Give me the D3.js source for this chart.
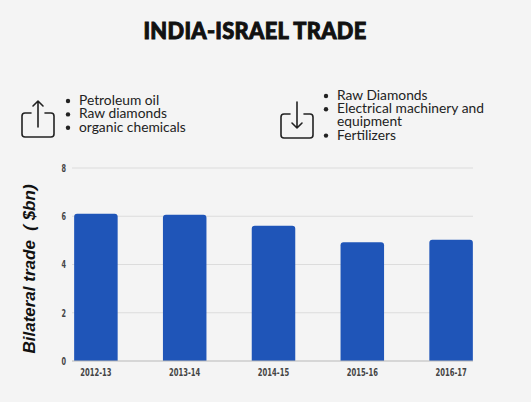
<!DOCTYPE html>
<html>
<head><meta charset="utf-8"></head>
<style>
  html, body { margin: 0; padding: 0; background: #f4f4f4; }
  svg { display: block; }
</style>
<body>
<div id="chart"></div>
<script src="https://cdnjs.cloudflare.com/ajax/libs/d3/7.8.5/d3.min.js"></script>
<script>
  // data
  const years = ['2012-13', '2013-14', '2014-15', '2015-16', '2016-17'];
  const trade = [6.1, 6.06, 5.61, 4.92, 5.03];
  const yTicks = [0, 2, 4, 6, 8];
  const exportsList = ['Petroleum oil', 'Raw diamonds', 'organic chemicals'];
  const importsList = ['Raw Diamonds', 'Electrical machinery and', 'equipment', 'Fertilizers'];
  const importBullets = [true, true, false, true];

  const W = 531, H = 402;
  const svg = d3.select('#chart').append('svg')
      .attr('width', W).attr('height', H);

  svg.append('rect').attr('width', W).attr('height', H).attr('fill', '#f4f4f4');

  // title
  svg.append('text')
      .attr('x', 255).attr('y', 39)
      .attr('text-anchor', 'middle')
      .attr('font-family', 'Lato, sans-serif')
      .attr('font-weight', 900)
      .attr('font-size', 21.8)
      .attr('fill', '#111')
      .attr('stroke', '#111')
      .attr('stroke-width', 0.9)
      .attr('letter-spacing', 0.3)
      .text('INDIA-ISRAEL TRADE');

  // icons
  function trayIcon(cx, top, bottom, up) {
    const g = svg.append('g')
        .attr('fill', 'none').attr('stroke', '#222')
        .attr('stroke-width', 1.6).attr('stroke-linecap', 'round').attr('stroke-linejoin', 'round');
    const l = cx - 16, r = cx + 16, t = top + 12, b = bottom, rr = 3;
    // tray with an opening at the top
    g.append('path').attr('d',
      `M${cx - 7},${t} L${l + rr},${t} Q${l},${t} ${l},${t + rr} L${l},${b - rr} Q${l},${b} ${l + rr},${b}` +
      ` L${r - rr},${b} Q${r},${b} ${r},${b - rr} L${r},${t + rr} Q${r},${t} ${r - rr},${t} L${cx + 7},${t}`);
    if (up) {
      g.append('path').attr('d', `M${cx},${t + 14} L${cx},${top} M${cx - 5},${top + 5} L${cx},${top} L${cx + 5},${top + 5}`);
    } else {
      g.append('path').attr('d', `M${cx},${top} L${cx},${t + 14} M${cx - 5},${t + 9} L${cx},${t + 14} L${cx + 5},${t + 9}`);
    }
  }
  trayIcon(38, 101, 137, true);
  trayIcon(297, 102, 138, false);

  function bulletList(x, y0, lines, bullets, step) {
    const g = svg.append('g')
        .attr('font-family', 'Lato, sans-serif')
        .attr('font-size', 13.8)
        .attr('fill', '#222');
    lines.forEach((t, i) => {
      const y = y0 + i * step;
      if (bullets[i]) {
        g.append('circle').attr('cx', x - 11).attr('cy', y - 4).attr('r', 2.2).attr('fill', '#222');
      }
      g.append('text').attr('x', x).attr('y', y).text(t);
    });
  }
  bulletList(79, 105, exportsList, [true, true, true], 13.4);
  bulletList(337, 100, importsList, importBullets, 13.2);

  // chart
  const y = d3.scaleLinear().domain([0, 8]).range([361, 168]);
  const x = d3.scaleBand().domain(years).range([51.5, 495.5])
      .paddingInner(0.51).paddingOuter(0.255);

  // gridlines
  svg.append('g').selectAll('line')
      .data(yTicks.filter(d => d > 0))
      .join('line')
      .attr('x1', 72).attr('x2', 473)
      .attr('y1', d => y(d)).attr('y2', d => y(d))
      .attr('stroke', '#dcdcdc').attr('stroke-width', 1);

  const tickFont = '"DejaVu Sans", sans-serif';

  // y axis labels (squeezed to look like a condensed face)
  const yAxis = svg.append('g')
      .attr('transform', 'translate(66,0)')
      .call(d3.axisLeft(y).tickValues(yTicks).tickSize(0).tickPadding(0).tickFormat(d3.format('d')));
  yAxis.select('.domain').remove();
  yAxis.selectAll('text')
      .attr('font-family', tickFont)
      .attr('font-weight', 'bold')
      .attr('font-size', 10.5)
      .attr('transform', 'scale(0.62,1)')
      .attr('fill', '#444');

  // bars
  svg.append('g').selectAll('path')
      .data(years.map((k, i) => ({ k, v: trade[i] })))
      .join('path')
      .attr('fill', '#1f55b8')
      .attr('d', d => {
        const x0 = x(d.k), x1 = x0 + x.bandwidth(), t = y(d.v), b = y(0), r = 3;
        return `M${x0},${b} L${x0},${t + r} Q${x0},${t} ${x0 + r},${t} L${x1 - r},${t} Q${x1},${t} ${x1},${t + r} L${x1},${b} Z`;
      });

  // baseline
  svg.append('line')
      .attr('x1', 72).attr('x2', 473)
      .attr('y1', y(0)).attr('y2', y(0))
      .attr('stroke', '#b8b8b8').attr('stroke-width', 1);

  // x axis labels
  const xAxis = svg.append('g')
      .attr('transform', `translate(0,${y(0)})`)
      .call(d3.axisBottom(x).tickSize(0).tickPadding(7));
  xAxis.select('.domain').remove();
  xAxis.selectAll('text')
      .attr('font-family', tickFont)
      .attr('font-weight', 'bold')
      .attr('font-size', 11)
      .attr('transform', 'scale(0.62,1)')
      .attr('fill', '#444');

  // y axis title
  svg.append('text')
      .attr('transform', 'translate(35,269) rotate(-90)')
      .attr('text-anchor', 'middle')
      .attr('font-family', '"Liberation Sans", Arial, sans-serif')
      .attr('font-style', 'italic')
      .attr('font-weight', 'bold')
      .attr('font-size', 17)
      .attr('fill', '#111')
      .attr('xml:space', 'preserve')
      .text('Bilateral trade  ( $bn)');
</script>
</body>
</html>
